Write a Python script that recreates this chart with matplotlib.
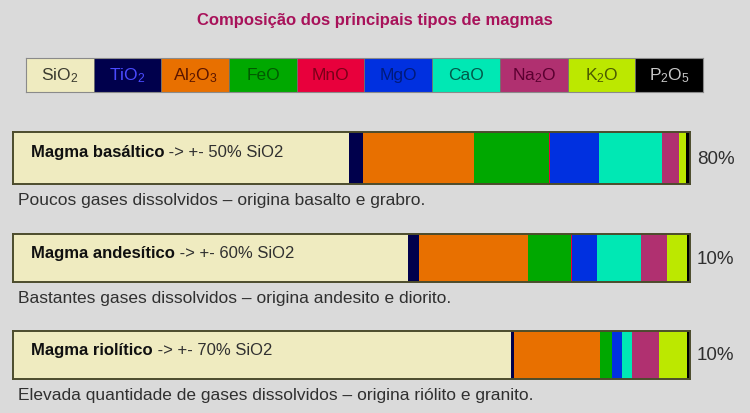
import matplotlib
matplotlib.use("Agg")
import matplotlib.pyplot as plt
import numpy as np

plt.rcParams["font.family"] = ["Liberation Sans", "DejaVu Sans"]
plt.rcParams["mathtext.fontset"] = "custom"
plt.rcParams["mathtext.rm"] = "Liberation Sans"
plt.rcParams["mathtext.it"] = "Liberation Sans:italic"
plt.rcParams["mathtext.bf"] = "Liberation Sans:bold"

# oxides, in stacking order
oxides = [r"SiO$_2$", r"TiO$_2$", r"Al$_2$O$_3$", "FeO", "MnO", "MgO", "CaO",
          r"Na$_2$O", r"K$_2$O", r"P$_2$O$_5$"]
oxide_colors = ["#efebc0", "#00004c", "#e87000", "#00a800", "#e8003c",
                "#0030e0", "#00e8b4", "#b03070", "#bce800", "#000000"]
label_colors = ["#3c3c30", "#4a4aff", "#5a1500", "#005a00", "#7a0018",
                "#001a7a", "#005a4a", "#5a0030", "#4a5a00", "#c8c8c8"]

# composition (%)
magma_names = ["Magma basáltico", "Magma andesítico", "Magma riolítico"]
magma_sio2 = [" -> +- 50% SiO2", " -> +- 60% SiO2", " -> +- 70% SiO2"]
basaltic = [49.6, 2.1, 16.4, 11.1, 0.1, 7.3, 9.3, 2.5, 1.0, 0.6]
andesitic = [58.4, 1.5, 16.1, 6.4, 0.1, 3.8, 6.4, 3.9, 2.9, 0.5]
rhyolitic = [73.6, 0.5, 12.7, 1.7, 0.05, 1.5, 1.5, 3.9, 4.1, 0.5]
abundance = ["80%", "10%", "10%"]
notes = ["Poucos gases dissolvidos – origina basalto e grabro.",
         "Bastantes gases dissolvidos – origina andesito e diorito.",
         "Elevada quantidade de gases dissolvidos – origina riólito e granito."]

W, H = 750, 414
fig = plt.figure(figsize=(W / 100, H / 100), dpi=100, facecolor="#dadada")


def px_axes(x0, y0, x1, y1):
    ax = fig.add_axes([x0 / W, 1 - y1 / H, (x1 - x0) / W, (y1 - y0) / H])
    ax.set_xticks([])
    ax.set_yticks([])
    return ax


fig.text(0.5, 1 - 20 / H, "Composição dos principais tipos de magmas",
         ha="center", va="center", fontsize=12, fontweight="bold", color="#a8125a")

# legend strip
lax = px_axes(26, 59, 703, 93)
pos = np.arange(len(oxides))
lax.barh(0, np.ones(len(oxides)), left=pos, height=1, color=oxide_colors,
         edgecolor="#707070", linewidth=0.6)
for i, (lab, c) in enumerate(zip(oxides, label_colors)):
    lax.text(i + 0.5, 0.02, lab, ha="center", va="center", fontsize=12.5, color=c)
lax.set_xlim(0, len(oxides))
lax.set_ylim(-0.5, 0.5)
for s in lax.spines.values():
    s.set_color("#8a8a8a")

bar_rows = [(133, 185), (235, 283), (332, 380)]
for comp, (y0, y1), name, sio2, pct, note in zip(
        [basaltic, andesitic, rhyolitic], bar_rows, magma_names, magma_sio2,
        abundance, notes):
    ax = px_axes(13, y0, 690, y1)
    vals = np.array(comp)
    left = np.concatenate([[0], np.cumsum(vals)[:-1]])
    ax.barh(0, vals, left=left, height=1, color=oxide_colors, edgecolor="none")
    ax.set_xlim(0, vals.sum())
    ax.set_ylim(-0.5, 0.5)
    for s in ax.spines.values():
        s.set_color("#4c4c2c")
        s.set_linewidth(1.4)
    t = ax.annotate(name, xy=(0, 0.62), xycoords="axes fraction",
                    xytext=(18, 0), textcoords="offset pixels",
                    ha="left", va="center", fontsize=12, fontweight="bold",
                    color="#101010")
    ax.annotate(sio2, xy=(1, 0), xycoords=t, ha="left", va="bottom",
                fontsize=12, color="#303030")
    ax.annotate(pct, xy=(1, 0.5), xycoords="axes fraction",
                xytext=(7, 0), textcoords="offset pixels",
                ha="left", va="center", fontsize=13.5, color="#303030",
                annotation_clip=False)
    ax.annotate(note, xy=(0, 0), xycoords="axes fraction",
                xytext=(5, -16), textcoords="offset pixels",
                ha="left", va="center", fontsize=12.5, color="#303030",
                annotation_clip=False)

fig.savefig("out.png", dpi=100, facecolor=fig.get_facecolor())
